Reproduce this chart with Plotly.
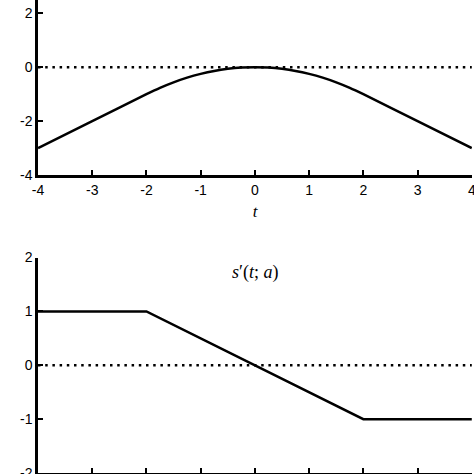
import plotly.graph_objects as go

# Top panel: s(t; a)
t_top = [-4, -3, -2, -1.75, -1.5, -1.25, -1, -0.75, -0.5, -0.25, 0,
         0.25, 0.5, 0.75, 1, 1.25, 1.5, 1.75, 2, 3, 4]
s_top = [-3, -2, -1, -0.766, -0.5625, -0.39, -0.25, -0.14, -0.0625, -0.016, 0,
         -0.016, -0.0625, -0.14, -0.25, -0.39, -0.5625, -0.766, -1, -2, -3]

# Bottom panel: s'(t; a)
t_bot = [-4, -2, 2, 4]
s_bot = [1, 1, -1, -1]

zero_x = [-4, 4]
zero_y = [0, 0]

x_ticks = [-4, -3, -2, -1, 0, 1, 2, 3, 4]
x_labels = ["-4", "-3", "-2", "-1", "0", "1", "2", "3", "4"]
y_ticks_top = [-4, -2, 0, 2]
y_labels_top = ["-4", "-2", "0", "2"]
y_ticks_bot = [-2, -1, 0, 1, 2]
y_labels_bot = ["-2", "-1", "0", "1", "2"]

W, H = 474, 474

fig = go.Figure()
dot = dict(color="black", width=2.5, dash="2.5px,4.7px")
fig.add_trace(go.Scatter(x=zero_x, y=zero_y, mode="lines", line=dot, xaxis="x", yaxis="y"))
fig.add_trace(go.Scatter(x=t_top, y=s_top, mode="lines", line=dict(color="black", width=2.5, shape="spline", smoothing=0.6), xaxis="x", yaxis="y"))
fig.add_trace(go.Scatter(x=zero_x, y=zero_y, mode="lines", line=dot, xaxis="x2", yaxis="y2"))
fig.add_trace(go.Scatter(x=t_bot, y=s_bot, mode="lines", line=dict(color="black", width=2.5), xaxis="x2", yaxis="y2"))

tickfont = dict(family="Liberation Sans, Arial, sans-serif", size=14, color="black")
axis_common = dict(showgrid=False, zeroline=False, showline=True, linecolor="black", linewidth=2.5,
                   ticks="inside", ticklen=5, tickwidth=2, tickcolor="black", tickfont=tickfont,
                   fixedrange=True, ticklabeloverflow="allow")

fig.update_layout(
    width=W, height=H,
    margin=dict(l=38, r=2, t=0, b=0, autoexpand=False),
    paper_bgcolor="white", plot_bgcolor="white",
    showlegend=False,
    xaxis=dict(axis_common, domain=[0, 1], range=[-4, 4.004], tickvals=x_ticks, ticktext=x_labels, anchor="y",
               title=dict(text="<i>t</i>", font=dict(family="Liberation Serif, Times New Roman, serif", size=17, color="black"), standoff=9)),
    yaxis=dict(axis_common, domain=[1 - 175 / H, 1], range=[-4, 2.49], tickvals=y_ticks_top, ticktext=y_labels_top, anchor="x"),
    xaxis2=dict(axis_common, domain=[0, 1], range=[-4, 4.004], tickvals=x_ticks, ticktext=x_labels, anchor="y2", showticklabels=False),
    yaxis2=dict(axis_common, domain=[1 / H, 1 - 257.5 / H], range=[-2, 2], tickvals=y_ticks_bot, ticktext=y_labels_bot, anchor="x2"),
    annotations=[dict(text="<i>s</i>′(<i>t</i>; <i>a</i>)", x=0, y=1.72, xref="x2", yref="y2",
                      showarrow=False, font=dict(family="Liberation Serif, Times New Roman, serif", size=18, color="black"))],
)

fig.write_html("out.html", config={"displayModeBar": False},
               post_script="document.body.style.margin='0';document.body.style.overflow='hidden';")
